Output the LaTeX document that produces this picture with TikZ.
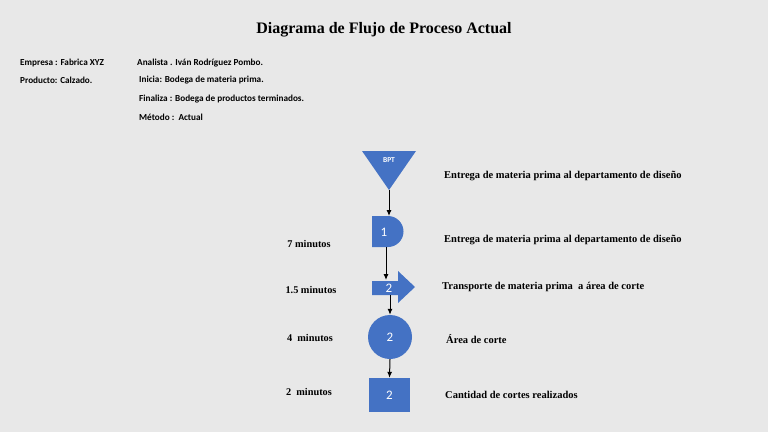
\documentclass[tikz,border=0pt]{standalone}
\usepackage{fontspec}
\usetikzlibrary{arrows.meta}
\setmainfont{Liberation Serif}
\newfontfamily\carl{Carlito}
\definecolor{bg}{HTML}{E8E8E8}
\definecolor{sb}{HTML}{4472C4}
\begin{document}
\begin{tikzpicture}[x=1pt,y=-1pt,
 info/.style={anchor=west,inner sep=0pt,font=\carl\bfseries\fontsize{9.2}{10}\selectfont},
 lab/.style={anchor=west,inner sep=0pt,font=\bfseries\fontsize{10.5}{12}\selectfont},
 mins/.style={inner sep=0pt,font=\bfseries\fontsize{10.3}{11}\selectfont},
 sym/.style={fill=sb,draw=none},
 num/.style={text=white,font=\carl\fontsize{13}{14}\selectfont},
 con/.style={draw=black,-{Latex[length=6pt,width=5pt]},line width=1pt}]
\fill[bg] (0,0) rectangle (768,432);
\useasboundingbox (0,0) rectangle (768,432);
\node[font=\bfseries\fontsize{16}{18}\selectfont] (title) at (384,30) {Diagrama de Flujo de Proceso Actual};
\node[info] (e) at (20,63) {Empresa : Fabrica XYZ};
\node[info] (a) at (137,63) {Analista . Iván Rodríguez Pombo.};
\node[info] (p) at (20,80) {Producto: Calzado.};
\node[info] (i) at (139,80) {Inicia: Bodega de materia prima.};
\node[info] (f) at (139,99) {Finaliza : Bodega de productos terminados.};
\node[info] (m) at (139,117) {Método :\ \ Actual};
% shapes
\fill[sym] (362,151) -- (416,151) -- (389,190) -- cycle;
\coordinate (t1) at (389,190);
\node[text=white,font=\carl\bfseries\fontsize{7.5}{8}\selectfont] (bpt) at (389,160) {BPT};
\fill[sym] (372,216) -- (388,216) arc[start angle=-90,end angle=90,radius=15.5] -- (372,247) -- cycle;
\node[num] (d1) at (384,232) {1};
\coordinate (dtop) at (389,216); \coordinate (dbot) at (386,247);
\fill[sym] (372,281) -- (398,281) -- (398,271) -- (415,287) -- (398,303) -- (398,295) -- (372,295) -- cycle;
\node[num] (t2) at (389,288) {2};
\coordinate (atop) at (386,280); \coordinate (abot) at (390,295);
\node[sym,circle,minimum size=44pt,inner sep=0pt] (c2) at (390,337) {};
\node[num] at (c2) {2};
\node[sym,minimum width=41pt,minimum height=34pt,inner sep=0pt] (s2) at (389.5,395) {};
\node[num] at (s2) {2};
\draw[con] (t1) -- (dtop);
\draw[con] (dbot) -- (atop);
\draw[con] (abot) -- (c2.north);
\draw[con] (c2.south) -- (s2.north);
% labels
\node[lab] (l1) at (444,176) {Entrega de materia prima al departamento de diseño};
\node[lab] (l2) at (444,240) {Entrega de materia prima al departamento de diseño};
\node[lab] (l3) at (442,287) {Transporte de materia prima\ \ a área de corte};
\node[lab] (l4) at (446,339) {Área de corte};
\node[lab] (l5) at (445,395) {Cantidad de cortes realizados};
\node[mins] (m1) at (309,244) {7 minutos};
\node[mins] (m2) at (311,290) {1.5 minutos};
\node[mins] (m3) at (310,338) {4\ \ minutos};
\node[mins] (m4) at (309,392) {2\ \ minutos};
\end{tikzpicture}
\end{document}
